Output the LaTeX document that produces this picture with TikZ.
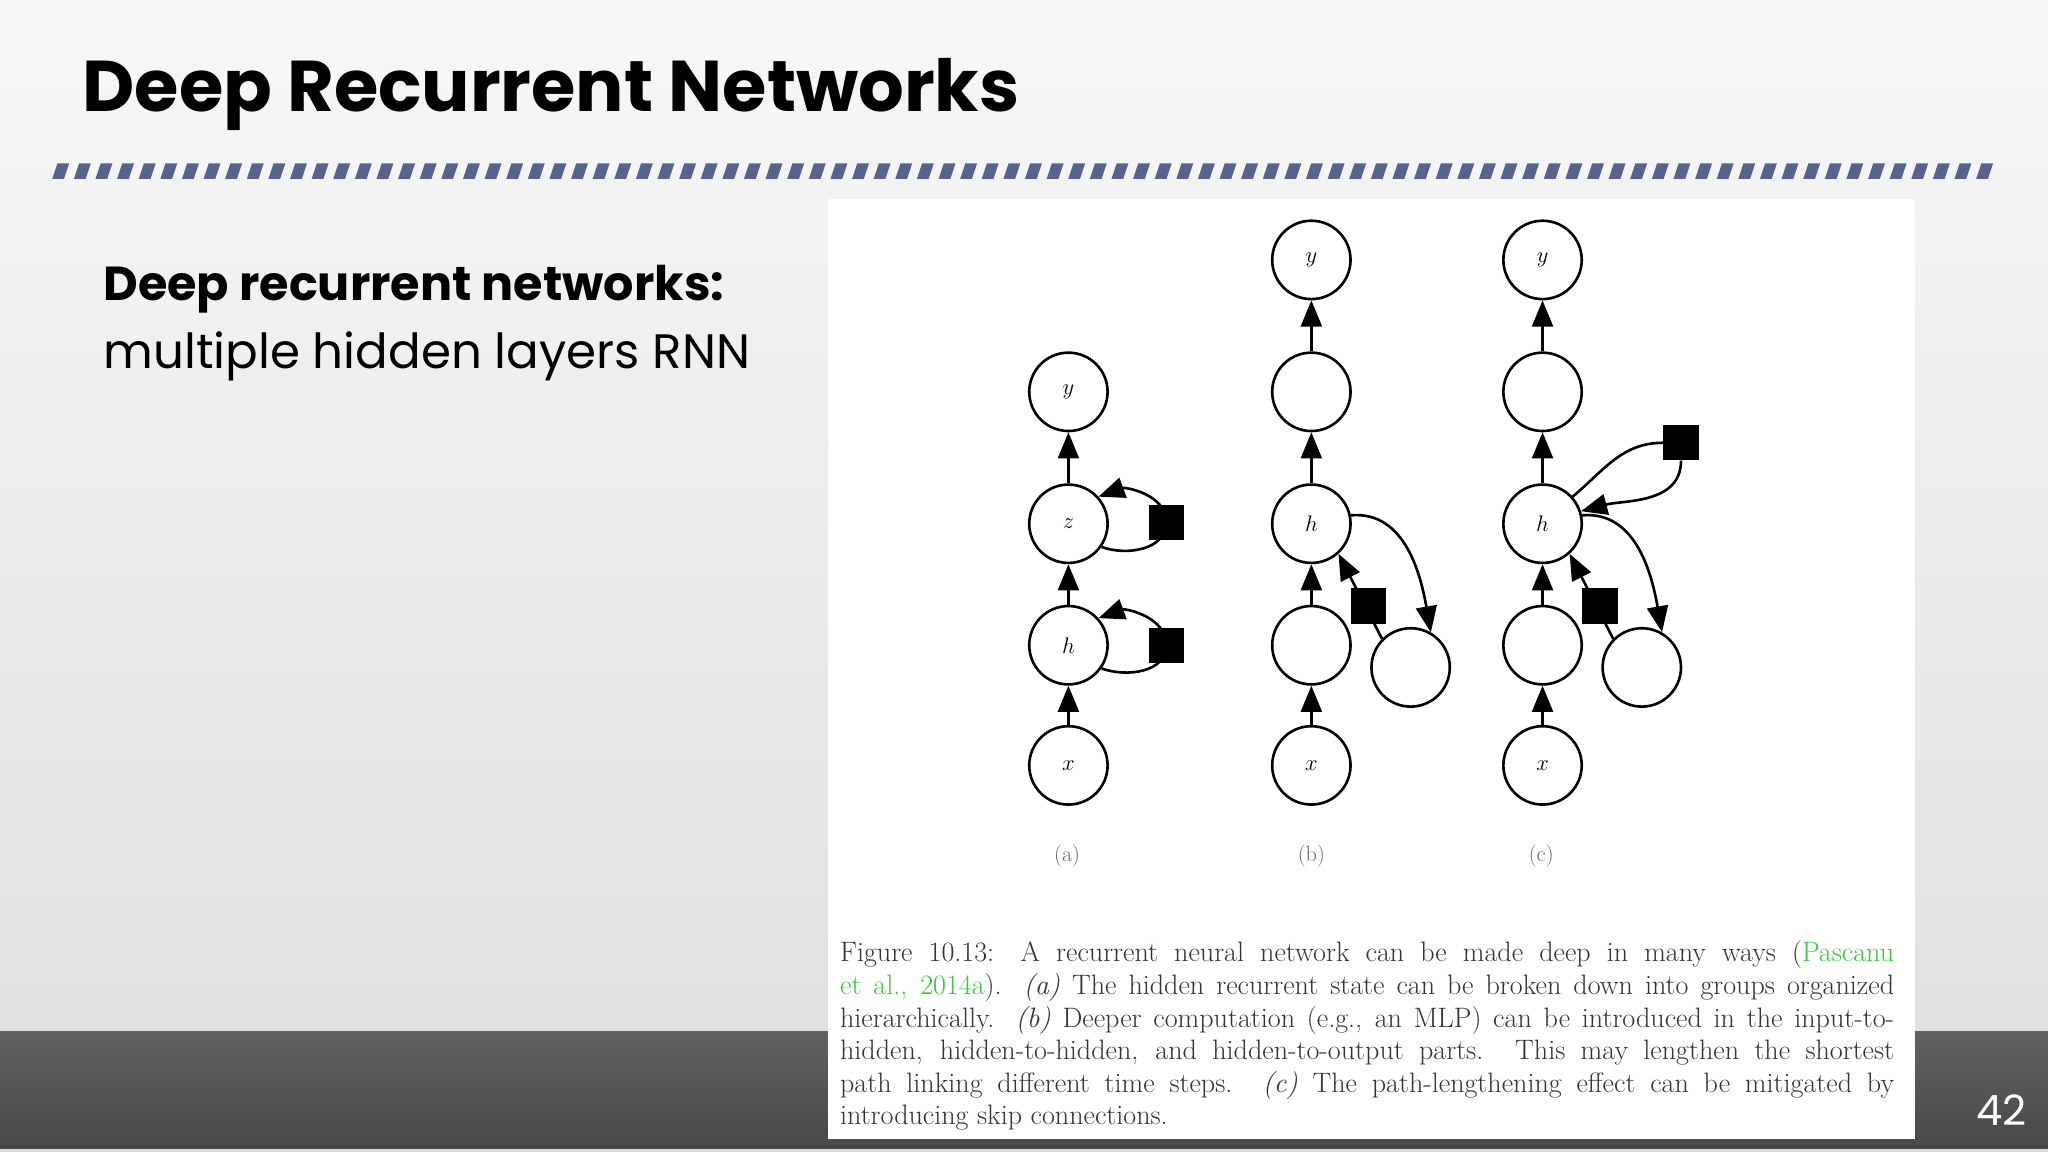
\documentclass[tikz,border=0pt]{standalone}
\usepackage{fontspec}
\newfontfamily\slide{Poppins}
\usetikzlibrary{arrows.meta}
\definecolor{bar}{HTML}{56648C}
\definecolor{cite}{HTML}{33CC33}
\begin{document}
\begin{tikzpicture}[x=1pt,y=-1pt,
  nd/.style={circle,draw,line width=2pt,minimum size=60pt,inner sep=0pt,font=\fontsize{16}{16}\selectfont},
  sq/.style={rectangle,fill=black,minimum size=27pt,inner sep=0pt},
  ar/.style={line width=2pt,-{Triangle[length=20pt,width=16pt]}},
  ln/.style={line width=2pt},
  lab/.style={font=\fontsize{17}{17}\selectfont,text=black!60}]
\useasboundingbox (0,0) rectangle (1568,882);
\shade[top color=white!97!black,bottom color=white!88!black] (0,0) rectangle (1568,790);
\shade[top color=black!62,bottom color=black!72] (0,790) rectangle (1568,880);
\fill[white!85!black] (0,880) rectangle (1568,882);
\node[anchor=base west,inner sep=0pt,font=\slide\bfseries\fontsize{55}{60}\selectfont] (title) at (63,85) {Deep Recurrent Networks};
\foreach \i in {0,...,89} {\fill[bar] ({40+\i*16.55},137) -- ({44+\i*16.55},125) -- ({53+\i*16.55},125) -- ({49+\i*16.55},137) -- cycle;}
\node[anchor=base west,inner sep=0pt,font=\slide\bfseries\fontsize{36.5}{38}\selectfont] (h1) at (79,230) {Deep recurrent networks:};
\node[anchor=base west,inner sep=0pt,font=\slide\fontsize{37}{38}\selectfont] (h2) at (79,282) {multiple hidden layers RNN};
\node[anchor=base east,inner sep=0pt,text=white,font=\slide\fontsize{32}{32}\selectfont] (pg) at (1552,862) {42};
\fill[white] (634,152) rectangle (1466,872);
% (a)
\node[nd] (ay) at (818,300) {$y$};
\node[nd] (az) at (818,401) {$z$};
\node[nd] (ah) at (818,494) {$h$};
\node[nd] (ax) at (818,586) {$x$};
\node[sq] (as1) at (893,400) {};
\node[sq] (as2) at (893,494) {};
\draw[ar] (ax) -- (ah); \draw[ar] (ah) -- (az); \draw[ar] (az) -- (ay);
\draw[ln] (az.-35) to[out=-20,in=-90] (as1.center);
\draw[ar] (as1.center) to[out=90,in=20] (az.42);
\draw[ln] (ah.-35) to[out=-20,in=-90] (as2.center);
\draw[ar] (as2.center) to[out=90,in=20] (ah.42);
\node[sq] at (as1) {}; \node[sq] at (as2) {};
% (b),(c)
\foreach \c/\p in {1004/b,1181/c}{
\node[nd] (\p y) at (\c,199) {$y$};
\node[nd] (\p m) at (\c,300) {};
\node[nd] (\p h) at (\c,401) {$h$};
\node[nd] (\p l) at (\c,494) {};
\node[nd] (\p x) at (\c,586) {$x$};
\node[nd] (\p s) at (\c+76,511) {};
\node[sq] (\p q) at (\c+44,464) {};
\draw[ar] (\p x) -- (\p l); \draw[ar] (\p l) -- (\p h); \draw[ar] (\p h) -- (\p m); \draw[ar] (\p m) -- (\p y);
\draw[ar] (\p s.135) -- (\p h.-48);
\draw[ar] (\p h.12) to[out=5,in=100] (\p s.60);
\node[sq] at (\p q) {};
}
\node[sq] (ct) at (1287,339) {};
\draw[ln] (ch.42) to[out=40,in=180] (ct.west);
\draw[ar] (ct.south) to[out=-90,in=15] (ch.18);
\node[lab] (la) at (817,655) {(a)};
\node[lab] (lb) at (1004,655) {(b)};
\node[lab] (lc) at (1180,655) {(c)};
\node[anchor=north west,inner sep=0pt,text width=807pt,align=justify,text=black!80,font=\fontsize{21.5}{25}\selectfont] (cap) at (643,720) {Figure 10.13: A recurrent neural network can be made deep in many ways ({\color{cite}Pascanu\linebreak et al., 2014a}). \emph{(a)} The hidden recurrent state can be broken down into groups organized\linebreak hierarchically. \emph{(b)} Deeper computation (e.g., an MLP) can be introduced in the input-to-\linebreak hidden, hidden-to-hidden, and hidden-to-output parts. This may lengthen the shortest\linebreak path linking different time steps. \emph{(c)} The path-lengthening effect can be mitigated by\linebreak introducing skip connections.};
\end{tikzpicture}
\end{document}
